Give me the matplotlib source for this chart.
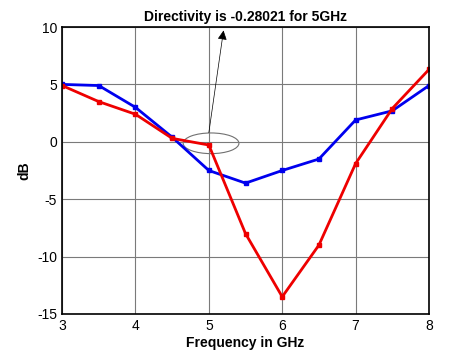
import numpy as np
from matplotlib import pyplot as plt
from matplotlib.patches import Ellipse

freq = [3, 3.5, 4, 4.5, 5, 5.5, 6, 6.5, 7, 7.5, 8]
blue_db = [5.0, 4.9, 3.0, 0.4, -2.5, -3.6, -2.5, -1.5, 1.9, 2.7, 4.9]
red_db = [4.9, 3.5, 2.4, 0.3, -0.28021, -8.0, -13.5, -9.0, -1.9, 2.9, 6.3]
xticks = [3, 4, 5, 6, 7, 8]
yticks = [-15, -10, -5, 0, 5, 10]

plt.rcParams['font.family'] = ['Liberation Sans', 'DejaVu Sans']
plt.rcParams['axes.unicode_minus'] = False

fig = plt.figure(figsize=(4.74, 3.53), dpi=100)
ax = fig.add_axes([0.131, 0.1105, 0.774, 0.813])

ax.plot(freq, blue_db, color='#0000ee', lw=2, marker='s', markersize=3)
ax.plot(freq, red_db, color='#ee0000', lw=2, marker='s', markersize=3)

# the circled point at 5 GHz and its arrow
ax.add_patch(Ellipse((5.03, -0.13), 0.76, 1.8, fill=False, edgecolor='#707070', lw=0.8))
ax.annotate('', xy=(5.2, 9.7), xytext=(5.0, 0.8),
            arrowprops=dict(arrowstyle='-|>', color='k', lw=0.5, mutation_scale=14,
                            shrinkA=0, shrinkB=0))

ax.set_xlim(3, 8)
ax.set_ylim(-15, 10)
ax.set_xticks(xticks)
ax.set_yticks(yticks)
ax.grid(True, color='#7a7a7a', lw=0.8)
ax.tick_params(direction='in', length=0, labelsize=10)
for s in ax.spines.values():
    s.set_linewidth(1.2)

ax.set_title('Directivity is -0.28021 for 5GHz', fontsize=10, fontweight='bold', pad=4)
ax.set_xlabel('Frequency in GHz', fontsize=10, fontweight='bold', labelpad=2)
ax.set_ylabel('dB', fontsize=10, fontweight='bold')

plt.savefig('out.png', dpi=100)
